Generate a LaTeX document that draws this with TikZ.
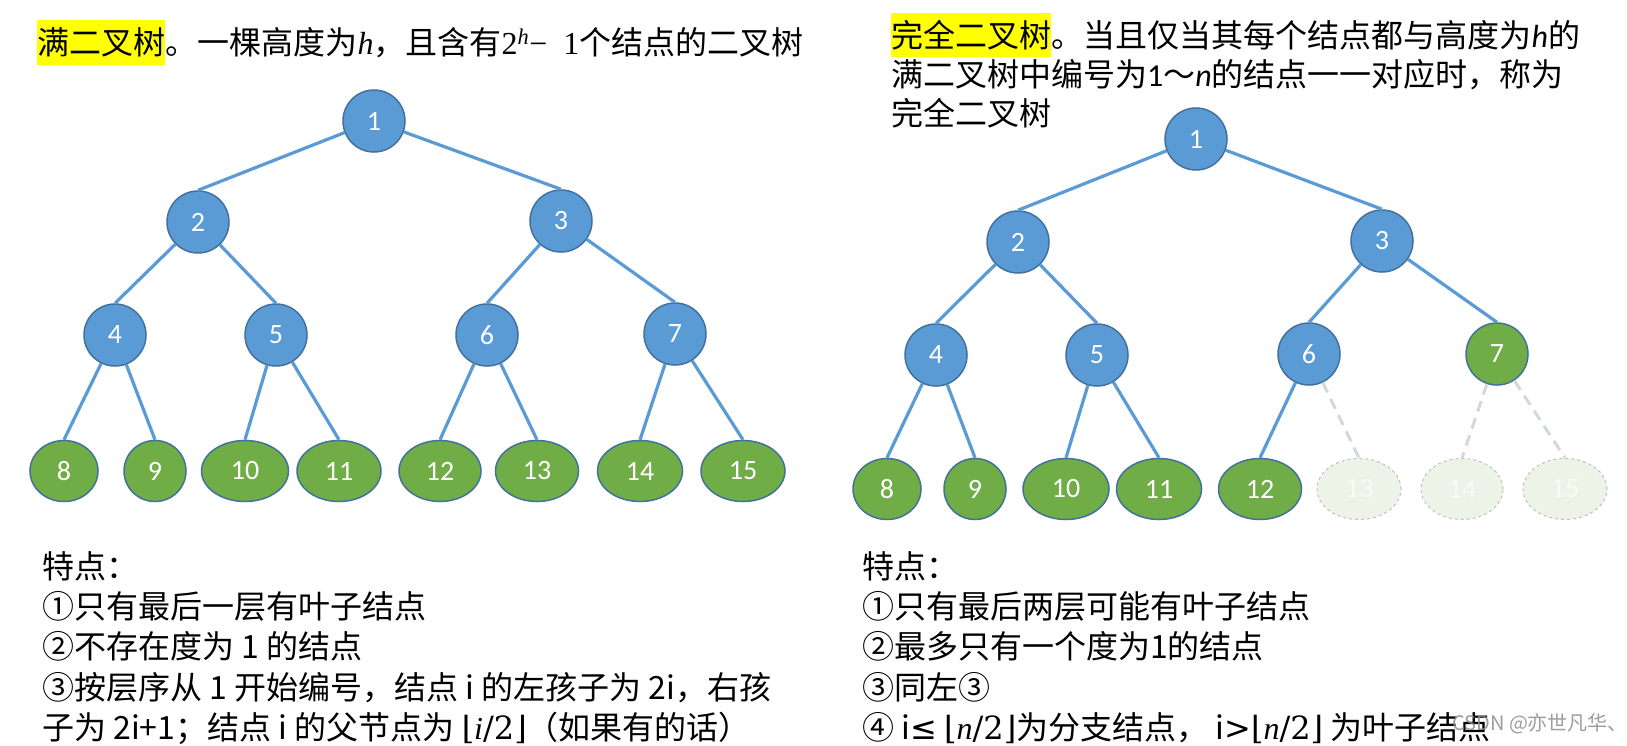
\documentclass[tikz,border=0pt]{standalone}
\usepackage{fontspec}
\setmainfont{Noto Sans CJK SC}
\newfontfamily\numf{Carlito}
\newfontfamily\serf{Liberation Serif}
\newfontfamily\dvs{DejaVu Sans}
\newfontfamily\dvserif{DejaVu Serif}
\usetikzlibrary{shapes.geometric}
\definecolor{nblue}{HTML}{5B9BD5}
\definecolor{nborder}{HTML}{41719C}
\definecolor{ngreen}{HTML}{70AD47}
\definecolor{fadefill}{HTML}{EEF3E8}
\definecolor{fadeline}{HTML}{BCC1C6}
\definecolor{fadeedge}{HTML}{D3D8DE}
\definecolor{fadetext}{HTML}{F8FAF6}
\definecolor{hlyellow}{HTML}{FFFF00}
\newcommand\bigtxt{\fontsize{32}{38}\selectfont}
\newcommand\flr[1]{{\dvserif ⌊}{\serf\itshape #1}{\dvserif /2⌋}}
\begin{document}
\begin{tikzpicture}[x=1pt,y=-1pt,
  bn/.style={circle,fill=nblue,draw=nborder,line width=1.5pt,minimum size=62pt,inner sep=0pt,
    text=white,font=\numf\fontsize{28}{28}\selectfont},
  gn/.style={ellipse,fill=ngreen,draw=nborder,line width=1.5pt,minimum height=61pt,inner sep=0pt,
    text=white,font=\numf\fontsize{28}{28}\selectfont},
  gc/.style={circle,fill=ngreen,draw=nborder,line width=1.5pt,minimum size=62pt,inner sep=0pt,
    text=white,font=\numf\fontsize{28}{28}\selectfont},
  fn/.style={ellipse,fill=fadefill,draw=fadeline,line width=1pt,dashed,minimum height=61pt,inner sep=0pt,
    text=fadetext,font=\numf\fontsize{28}{28}\selectfont},
  edge/.style={draw=nblue,line width=3.2pt},
  fedge/.style={draw=fadeedge,line width=3pt,dash pattern=on 11pt off 7pt},
  txt/.style={inner sep=0pt,font=\bigtxt,text=black},
  hl/.style={fill=hlyellow,inner xsep=0pt,inner ysep=0pt,font=\bigtxt,text=black}
]
\fill[white] (0,0) rectangle (1627,745);
\useasboundingbox (0,0) rectangle (1627,745);

% ---------- left heading ----------
\node[hl,anchor=base west,text height=34pt,text depth=11pt] (hl1) at (37,54) {满二叉树};
\node[txt,anchor=base west] (hl1b) at (hl1.base east) {。一棵高度为{\serf\itshape h}，且含有{\serf 2\textsuperscript{\itshape h}−\hspace{16pt}1}个结点的二叉树};

% ---------- right heading ----------
\node[hl,anchor=base west,text height=34pt,text depth=10pt] (hr1) at (891,47) {完全二叉树};
\node[txt,anchor=base west] (hr1b) at (hr1.base east) {。当且仅当其每个结点都与高度为{\numf\itshape h}的};
\node[txt,anchor=base west] (hr2) at (891,86) {满二叉树中编号为{\numf 1}～{\numf\itshape n}的结点一一对应时，称为};
\node[txt,anchor=base west] (hr3) at (891,125) {完全二叉树};

% ---------- left tree ----------
\node[bn] (a1) at (374,121) {1};
\node[bn] (a2) at (198,222) {2};
\node[bn] (a3) at (561,221) {3};
\node[bn] (a4) at (115,335) {4};
\node[bn] (a5) at (276,335) {5};
\node[bn] (a6) at (487,335) {6};
\node[bn] (a7) at (675,334) {7};
\node[gn,minimum width=68pt] (a8) at (64,471) {8};
\node[gn,minimum width=62pt] (a9) at (155,471) {9};
\node[gn,minimum width=87pt] (a10) at (245,471) {10};
\node[gn,minimum width=84pt] (a11) at (339,471) {11};
\node[gn,minimum width=82pt] (a12) at (440,471) {12};
\node[gn,minimum width=83pt] (a13) at (537,471) {13};
\node[gn,minimum width=85pt] (a14) at (640,471) {14};
\node[gn,minimum width=84pt] (a15) at (743,471) {15};
\foreach \p/\c in {a1/a2,a1/a3,a2/a4,a2/a5,a3/a6,a3/a7,a4/a8,a4/a9,a5/a10,a5/a11,a6/a12,a6/a13,a7/a14,a7/a15}
  \draw[edge] (\p) -- (\c.north);

% ---------- right tree ----------
\node[bn] (b1) at (1196,139) {1};
\node[bn] (b2) at (1018,242) {2};
\node[bn] (b3) at (1382,241) {3};
\node[bn] (b4) at (936,355) {4};
\node[bn] (b5) at (1097,355) {5};
\node[bn] (b6) at (1309,354) {6};
\node[gc] (b7) at (1497,354) {7};
\node[gn,minimum width=68pt] (b8) at (887,489) {8};
\node[gn,minimum width=62pt] (b9) at (975,489) {9};
\node[gn,minimum width=86pt] (b10) at (1066,489) {10};
\node[gn,minimum width=85pt] (b11) at (1159,489) {11};
\node[gn,minimum width=83pt] (b12) at (1260,489) {12};
\node[fn,minimum width=84pt] (b13) at (1359,489) {13};
\node[fn,minimum width=82pt] (b14) at (1462,489) {14};
\node[fn,minimum width=84pt] (b15) at (1565,489) {15};
\foreach \p/\c in {b1/b2,b1/b3,b2/b4,b2/b5,b3/b6,b3/b7,b4/b8,b4/b9,b5/b10,b5/b11,b6/b12}
  \draw[edge] (\p) -- (\c.north);
\foreach \p/\c in {b6/b13,b7/b14,b7/b15}
  \draw[fedge] (\p) -- (\c.north);

% ---------- left features ----------
\node[txt,anchor=base west] (l0) at (42,578) {特点：};
\node[txt,anchor=base west] (l1) at (42,618) {①只有最后一层有叶子结点};
\node[txt,anchor=base west] (l2) at (42,658) {②不存在度为 1 的结点};
\node[txt,anchor=base west] (l3) at (42,699) {③按层序从 1 开始编号，结点 i 的左孩子为 2i，右孩};
\node[txt,anchor=base west] (l4) at (42,739) {子为 2i+1；结点 i 的父节点为 \flr{i}（如果有的话）};

% ---------- right features ----------
\node[txt,anchor=base west] (r0) at (862,578) {特点：};
\node[txt,anchor=base west] (r1) at (862,618) {①只有最后两层可能有叶子结点};
\node[txt,anchor=base west] (r2) at (862,658) {②最多只有一个度为1的结点};
\node[txt,anchor=base west] (r3) at (862,699) {③同左③};
\node[txt,anchor=base west] (r4) at (862,739) {④ i{\dvs ≤} \flr{n}为分支结点， i{\dvs >}\flr{n} 为叶子结点};

% ---------- watermark ----------
\node[inner sep=0pt,anchor=base west,font=\fontsize{20}{20}\selectfont,text=black!45,opacity=0.85] (wm) at (1452,730) {CSDN @亦世凡华、};
\end{tikzpicture}
\end{document}
